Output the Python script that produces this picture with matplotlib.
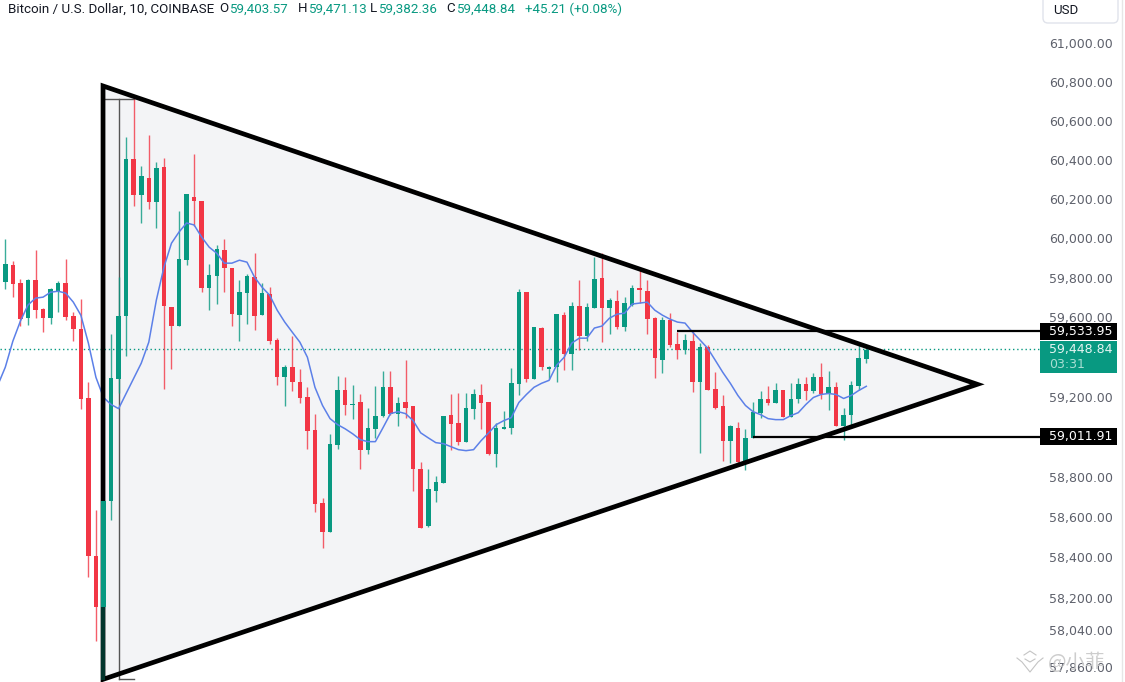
"""Bitcoin 10m candles inside a drawn triangle, TradingView style."""
import matplotlib
matplotlib.use("Agg")
import matplotlib.pyplot as plt
from matplotlib.lines import Line2D
from matplotlib.patches import FancyBboxPatch, Polygon, Rectangle
from matplotlib.transforms import IdentityTransform
from matplotlib.ticker import NullLocator
import numpy as np

W, H = 1125, 682
GREEN = "#089981"
RED = "#f23645"
BLUE = "#5c80e8"
AXIS_TEXT = "#5d606b"

opens = [
    59777, 59863, 59772, 59595, 59787, 59640, 59595, 59731, 59772, 59605,
    59539, 59191, 58405, 58155, 58680, 59287, 59605, 60404, 60220, 60307,
    60184, 60364, 59650, 59555, 59888, 60210, 60189, 59746, 59807, 59938,
    59847, 59610, 59721, 59802, 59610, 59716, 59484, 59297, 59348, 59272,
    59196, 59034, 58670, 58525, 58960, 59231, 59156, 59171, 58935, 59039,
    59105, 59247, 59115, 59171, 59151, 58840, 58555, 58730, 58770, 59110,
    59070, 58975, 59140, 59206, 59171, 58915, 59039, 59044, 59262, 59726,
    59287, 59545, 59337, 59348, 59610, 59413, 59656, 59504, 59645, 59797,
    59645, 59681, 59550, 59661, 59746, 59731, 59595, 59383, 59585, 59464,
    59433, 59479, 59272, 59448, 59236, 59151, 58980, 59044, 58875, 58994,
    59120, 59186, 59166, 59231, 59100, 59186, 59262, 59226, 59297, 59211,
    59247, 59055, 59110, 59252, 59388,
]
highs = [
    59994, 59883, 59792, 59792, 59938, 59645, 59746, 59782, 59893, 59625,
    59691, 59272, 58635, 58680, 59514, 59802, 60517, 60712, 60369, 60527,
    60389, 60410, 59650, 60138, 60225, 60430, 60189, 59868, 59964, 59994,
    59847, 59787, 59817, 59923, 59772, 59751, 59494, 59358, 59504, 59337,
    59247, 59115, 58695, 59014, 59302, 59297, 59257, 59211, 59145, 59252,
    59327, 59327, 59196, 59383, 59151, 58875, 58840, 58805, 59105, 59211,
    59216, 59216, 59236, 59262, 59171, 59070, 59130, 59342, 59741, 59726,
    59550, 59550, 59353, 59615, 59625, 59676, 59787, 59671, 59903, 59923,
    59696, 59736, 59701, 59762, 59837, 59787, 59600, 59600, 59620, 59524,
    59514, 59534, 59469, 59459, 59322, 59206, 59060, 59075, 59039, 59171,
    59226, 59252, 59267, 59231, 59267, 59292, 59297, 59317, 59368, 59327,
    59272, 59145, 59277, 59459, 59459,
]
lows = [
    59741, 59701, 59555, 59560, 59595, 59524, 59565, 59625, 59585, 59479,
    59140, 58305, 57990, 57795, 58585, 59216, 59403, 60164, 60077, 60148,
    60051, 59236, 59337, 59555, 59863, 60061, 59726, 59635, 59666, 59726,
    59555, 59479, 59565, 59534, 59610, 59464, 59257, 59151, 59226, 59166,
    58940, 58625, 58445, 58525, 58940, 59110, 59090, 58840, 58915, 58994,
    59100, 59110, 59055, 59095, 58730, 58545, 58550, 58675, 58770, 58935,
    58960, 58975, 59090, 59039, 58910, 58850, 59039, 59014, 59206, 59272,
    59287, 59332, 59287, 59272, 59332, 59332, 59433, 59479, 59645, 59474,
    59514, 59539, 59529, 59656, 59671, 59514, 59292, 59317, 59448, 59388,
    59413, 59221, 58920, 59231, 59140, 58880, 58870, 58865, 58835, 58994,
    59095, 59156, 59166, 59100, 59100, 59166, 59181, 59216, 59186, 59135,
    59055, 58984, 59055, 59231, 59368,
]
closes = [
    59868, 59767, 59590, 59787, 59635, 59595, 59741, 59772, 59600, 59539,
    59186, 58405, 58155, 58680, 59292, 59605, 60404, 60220, 60317, 60184,
    60358, 59656, 59555, 59893, 60225, 60189, 59746, 59812, 59943, 59847,
    59615, 59726, 59807, 59605, 59721, 59479, 59297, 59348, 59272, 59191,
    59029, 58665, 58525, 58965, 59231, 59156, 59161, 58935, 59044, 59105,
    59247, 59115, 59166, 59145, 58840, 58545, 58740, 58775, 59105, 59065,
    58975, 59145, 59211, 59166, 58915, 59044, 59050, 59267, 59726, 59287,
    59550, 59348, 59348, 59615, 59413, 59656, 59504, 59650, 59792, 59645,
    59686, 59550, 59671, 59746, 59736, 59590, 59393, 59585, 59459, 59433,
    59484, 59272, 59448, 59231, 59145, 58980, 59055, 58875, 58994, 59125,
    59186, 59166, 59231, 59100, 59186, 59262, 59226, 59297, 59211, 59247,
    59055, 59110, 59257, 59393, 59433,
]
# media móvil, empieza una vela antes de la primera
ma_values = [
    59257, 59348, 59479, 59580, 59661, 59696, 59701, 59726, 59731, 59721,
    59676, 59610, 59469, 59297, 59196, 59161, 59140, 59216, 59292, 59368,
    59474, 59686, 59852, 59974, 60031, 60077, 60067, 60005, 59954, 59923,
    59873, 59873, 59888, 59878, 59802, 59751, 59711, 59635, 59575, 59524,
    59474, 59398, 59247, 59156, 59090, 59060, 59039, 59014, 58985, 58975,
    58975, 59044, 59115, 59125, 59115, 59080, 59019, 58994, 58970, 58965,
    58950, 58935, 58930, 58935, 58980, 59019, 59060, 59080, 59095, 59171,
    59211, 59247, 59267, 59282, 59358, 59398, 59469, 59494, 59494, 59545,
    59555, 59595, 59615, 59620, 59666, 59671, 59676, 59635, 59610, 59590,
    59575, 59570, 59524, 59484, 59443, 59383, 59322, 59267, 59206, 59156,
    59125, 59110, 59090, 59085, 59085, 59105, 59120, 59161, 59196, 59211,
    59216, 59211, 59191, 59206, 59231, 59252,
]

tick_values = [61000, 60800, 60600, 60400, 60200, 60000, 59800, 59600, 59200,
               58800, 58600, 58400, 58200, 58040, 57860]
tick_labels = ["61,000.00", "60,800.00", "60,600.00", "60,400.00", "60,200.00",
               "60,000.00", "59,800.00", "59,600.00", "59,200.00", "58,800.00",
               "58,600.00", "58,400.00", "58,200.00", "58,040.00", "57,860.00"]

triangle_x = [12.94, 12.94, 128.7]
triangle_y = [60778, 57800, 59262]
range_box_x = [12.94, 15, 17]
range_box_y = [60712, 57800]
level_starts = [89, 99]
level_prices = [59529, 59000]
last_price = 59438

header_parts = [
    ("Bitcoin / U.S. Dollar, 10, COINBASE", 8, "#131722"),
    ("O", 219, "#131722"), ("59,403.57", 229, GREEN),
    ("H", 298, "#131722"), ("59,471.13", 308, GREEN),
    ("L", 370, "#131722"), ("59,382.36", 378, GREEN),
    ("C", 446, "#131722"), ("59,448.84", 456, GREEN),
    ("+45.21 (+0.08%)", 525, GREEN),
]


def draw_candles(ax):
    x = np.arange(len(opens))
    o, h, l, c = map(np.array, (opens, highs, lows, closes))
    colors = np.where(c >= o, GREEN, RED)
    ax.vlines(x, l, h, colors=colors, lw=1.0, alpha=0.8, zorder=3)
    ax.bar(x, np.abs(c - o), bottom=np.minimum(o, c), width=0.6, color=colors, zorder=3.2)
    # esta vela queda pintada por encima del trazo negro
    ax.bar(x[13], abs(c[13] - o[13]), bottom=min(o[13], c[13]), width=0.6, color=colors[13], zorder=6)
    ax.vlines(x[13], l[13], o[13], colors=GREEN, lw=3.0, alpha=0.35, zorder=6)


def draw_triangle(ax):
    pts = list(zip(triangle_x, triangle_y))
    ax.add_patch(Polygon(pts, closed=True, facecolor="#f3f4f6", edgecolor="none", zorder=1))
    ax.add_patch(Polygon(pts, closed=True, fill=False, edgecolor="black", lw=3.4,
                         joinstyle="miter", zorder=5))
    # rango medido dentro del triángulo
    left, mid, right = range_box_x
    ax.plot([left, right], [range_box_y[0]] * 2, color="#555555", lw=1.0, zorder=2.5)
    ax.plot([mid, mid], range_box_y, color="#555555", lw=1.0, zorder=2.5)
    ax.plot([mid, right], [range_box_y[1]] * 2, color="#555555", lw=1.0, clip_on=False, zorder=2.5)


def draw_price_boxes(fig):
    identity = IdentityTransform()
    boxes = [(1040, 323, 77, 17, "black"), (1040, 428, 77, 17, "black"), (1040, 341, 77, 32, GREEN)]
    for x, y, w, h, color in boxes:
        fig.add_artist(Rectangle((x, H - y - h), w, h, facecolor=color, edgecolor="none", transform=identity))
    for text, y, color in [("59,533.95", 331.5, "white"), ("59,011.91", 436.5, "white"),
                           ("59,448.84", 349, "#e6f5f2"), ("03:31", 364, "#a8ded3")]:
        fig.text(1049 / W, 1 - y / H, text, color=color, fontsize=9, va="center", ha="left")
    fig.add_artist(FancyBboxPatch((1043, H - 23), 75, 32, boxstyle="round,pad=0,rounding_size=5",
                                  facecolor="white", edgecolor="#e0e3eb", lw=1, transform=identity))
    fig.text(1053 / W, 1 - 10 / H, "USD", color="#131722", fontsize=9.5, va="center", ha="left",
             family="Roboto")
    fig.add_artist(Line2D([1122, 1122], [0, H], color="#e6e6e6", lw=1, transform=identity))


def draw_watermark(fig):
    identity = IdentityTransform()
    chevrons = [
        [(1017, 658), (1022, 662), (1030, 672), (1038, 662), (1043, 658)],
        [(1024, 655), (1030, 651), (1036, 655)],
        [(1025, 659), (1030, 662), (1035, 659)],
    ]
    for pts in chevrons:
        xs = [p[0] for p in pts]
        ys = [H - p[1] for p in pts]
        fig.add_artist(Line2D(xs, ys, color="#c4c4c4", lw=0.8, transform=identity))
    fig.text(1048 / W, 1 - 662 / H, "@小菲", color="#c8c8c8", fontsize=14, va="center", ha="left",
             family=["Noto Sans CJK SC", "DejaVu Sans"], alpha=0.9)


def main():
    fig = plt.figure(figsize=(W / 100, H / 100), dpi=100)
    ax = fig.add_axes([0, 0, 1040 / W, 1])

    draw_triangle(ax)
    ax.axhline(last_price, color=GREEN, lw=1.0, ls=(0, (1, 2)), zorder=2)
    draw_candles(ax)
    ax.plot(np.arange(len(ma_values)) - 1, ma_values, color=BLUE, lw=1.1, zorder=4)
    for start, price in zip(level_starts, level_prices):
        ax.hlines(price, start, 137, color="black", lw=1.6, zorder=4.5)

    ax.set_yscale("log")
    ax.set_xlim(-0.702, 137)
    ax.set_ylim(57787, 61222)
    ax.yaxis.tick_right()
    ax.set_yticks(tick_values, tick_labels)
    ax.yaxis.set_minor_locator(NullLocator())
    ax.tick_params(axis="y", length=0, pad=6.5, labelsize=9, labelcolor=AXIS_TEXT)
    ax.set_xticks([])
    for spine in ax.spines.values():
        spine.set_visible(False)

    draw_price_boxes(fig)
    draw_watermark(fig)
    for text, x, color in header_parts:
        fig.text(x / W, 1 - 9 / H, text, color=color, fontsize=9.6, va="center", ha="left", family="Roboto")

    fig.savefig("out.png", dpi=100)


if __name__ == "__main__":
    main()
